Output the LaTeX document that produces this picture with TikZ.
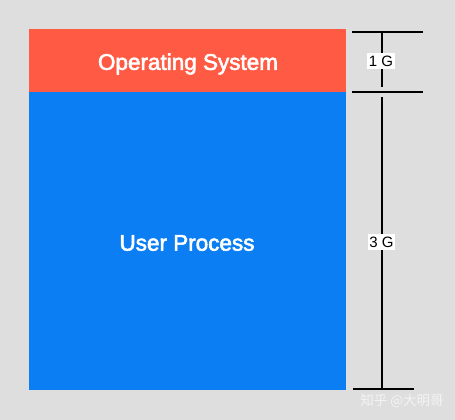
\documentclass[tikz,border=0pt]{standalone}
\usepackage{fontspec}
\setmainfont{Liberation Sans}
\newfontfamily\medfont{Liberation Sans}[FakeBold=2.5]
\newfontfamily\cjkfont{Noto Sans CJK SC}
\definecolor{bg}{HTML}{DEDEDE}
\definecolor{osred}{HTML}{FF5B44}
\definecolor{upblue}{HTML}{0A7EF2}
\definecolor{wm}{HTML}{F4F4F4}
\begin{document}
\begin{tikzpicture}[x=1pt,y=-1pt,
  block/.style={draw=none,anchor=north west,inner sep=0pt,outer sep=0pt},
  blocktext/.style={text=white,font=\medfont\fontsize{22.5}{25}\selectfont},
  dimline/.style={line width=1.8pt,black},
  dimlabel/.style={fill=white,inner xsep=1.5pt,inner ysep=3pt,font=\fontsize{15}{17}\selectfont,text=black}]
\useasboundingbox[fill=bg] (0,0) rectangle (455,420);
\node[block,fill=osred,minimum width=317pt,minimum height=63pt] (os) at (29,29) {};
\node[block,fill=upblue,minimum width=317pt,minimum height=298pt] (up) at (29,92) {};
\node[blocktext] (ost) at (188,64) {Operating System};
\node[blocktext] (upt) at (187,243) {User Process};
% dimension lines
\coordinate (t1) at (352,32); \coordinate (t2) at (423,32);
\coordinate (m1) at (352,92); \coordinate (m2) at (423,92);
\coordinate (b1) at (353,389); \coordinate (b2) at (414,389);
\coordinate (v1) at (382,32); \coordinate (v2) at (382,87);
\coordinate (v3) at (382,97); \coordinate (v4) at (382,389);
\draw[dimline] (t1) -- (t2);
\draw[dimline] (m1) -- (m2);
\draw[dimline] (b1) -- (b2);
\draw[dimline] (v1) -- (v2);
\draw[dimline] (v3) -- (v4);
\node[dimlabel] (l1) at (381,61) {1 G};
\node[dimlabel] (l3) at (381.5,242) {3 G};
\node[text=wm,font=\cjkfont\fontsize{13.5}{15}\selectfont] (wmk) at (402,401) {知乎 @大明哥};
\end{tikzpicture}
\end{document}
